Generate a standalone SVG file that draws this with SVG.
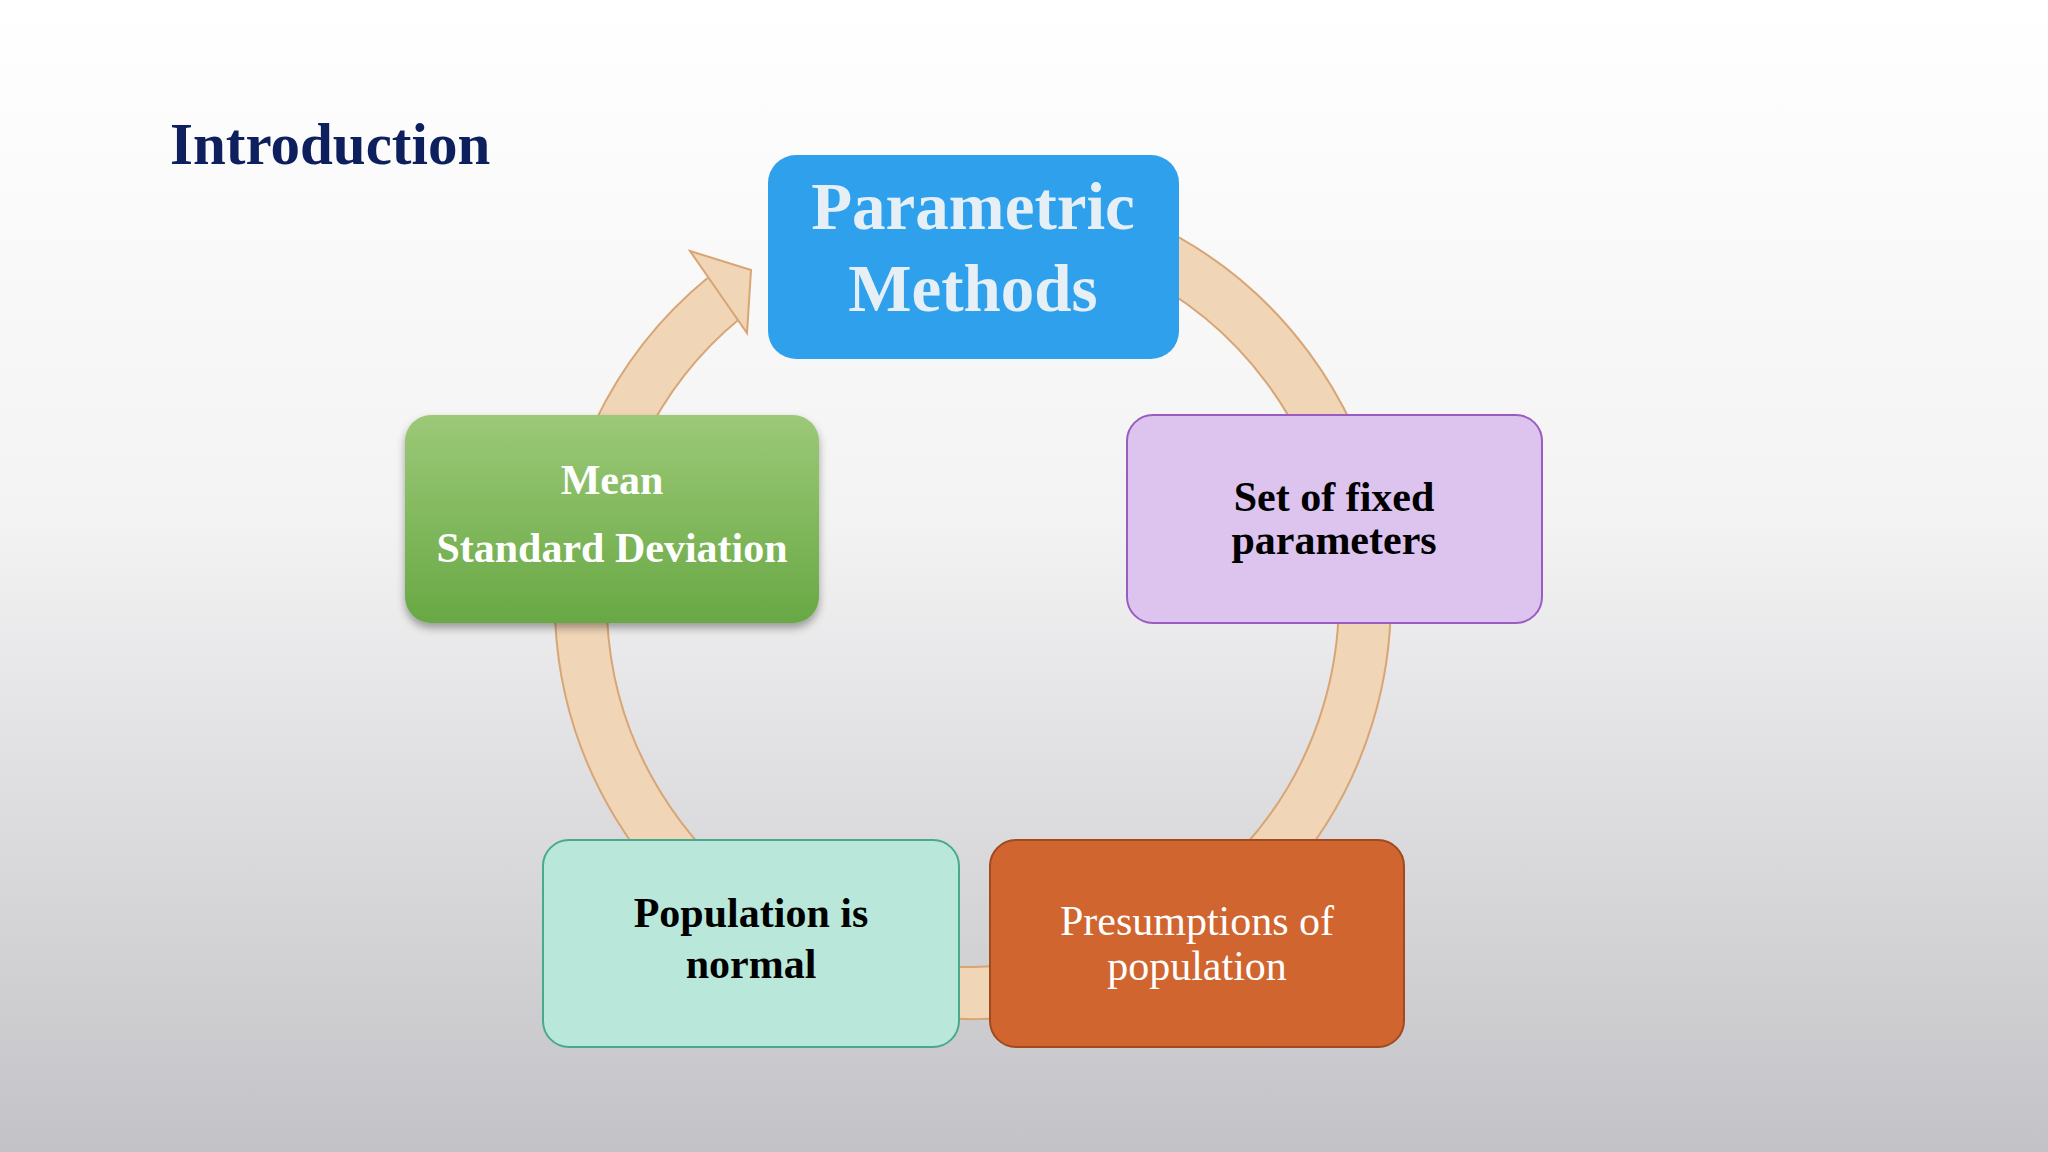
<svg xmlns="http://www.w3.org/2000/svg" width="2048" height="1152" viewBox="0 0 2048 1152">
<defs>
<linearGradient id="bg" x1="0" y1="0" x2="0" y2="1">
<stop offset="0" stop-color="#ffffff"/><stop offset="0.45" stop-color="#f3f3f4"/><stop offset="1" stop-color="#c3c3c7"/>
</linearGradient>
<linearGradient id="green" x1="0" y1="0" x2="0" y2="1">
<stop offset="0" stop-color="#9cc978"/><stop offset="1" stop-color="#68a844"/>
</linearGradient>
<filter id="sh" x="-10%" y="-10%" width="120%" height="130%">
<feDropShadow dx="0" dy="5" stdDeviation="4" flood-color="#000" flood-opacity="0.35"/>
</filter>
<style>
.t{font-family:"Liberation Serif","Times New Roman",serif;text-anchor:middle}
.b{font-weight:bold}
</style>
</defs>
<rect width="2048" height="1152" fill="url(#bg)"/>
<text x="170" y="164" font-family="Liberation Serif,serif" font-weight="bold" font-size="59" fill="#0d1f5c">Introduction</text>
<g id="connectors">
<path d="M973 209 A392 392 0 1 1 724 298" fill="none" stroke="#d8a574" stroke-width="54"/>
<path d="M973 209 A392 392 0 1 1 724 298" fill="none" stroke="#f1d5b7" stroke-width="50"/>
<polygon points="690,251 751,270 747,333" fill="#f1d5b7" stroke="#d8a574" stroke-width="2" stroke-linejoin="miter"/>
</g>
<g id="parametric">
<rect x="768" y="155" width="411" height="204" rx="28" fill="#2fa1ec"/>
<text class="t b" x="973" y="229" font-size="67" fill="#e6eef6">Parametric</text>
<text class="t b" x="973" y="311" font-size="67" fill="#e6eef6">Methods</text>
</g>
<g id="fixed">
<rect x="1127" y="415" width="415" height="208" rx="26" fill="#dcc4ee" stroke="#9a5cc0" stroke-width="2"/>
<text class="t b" x="1334" y="511" font-size="42" fill="#000">Set of fixed</text>
<text class="t b" x="1334" y="554" font-size="42" fill="#000">parameters</text>
</g>
<g id="presumptions">
<rect x="990" y="840" width="414" height="207" rx="26" fill="#d06530" stroke="#a04a20" stroke-width="2"/>
<text class="t" x="1197" y="935" font-size="42" fill="#fff">Presumptions of</text>
<text class="t" x="1197" y="980" font-size="42" fill="#fff">population</text>
</g>
<g id="normal">
<rect x="543" y="840" width="416" height="207" rx="26" fill="#b9e8da" stroke="#4aa890" stroke-width="2"/>
<text class="t b" x="751" y="927" font-size="42" fill="#000">Population is</text>
<text class="t b" x="751" y="978" font-size="42" fill="#000">normal</text>
</g>
<g id="mean">
<rect x="405" y="415" width="414" height="208" rx="26" fill="url(#green)" filter="url(#sh)"/>
<text class="t b" x="612" y="494" font-size="42" fill="#fff">Mean</text>
<text class="t b" x="612" y="562" font-size="42" fill="#fff">Standard Deviation</text>
</g>
</svg>
